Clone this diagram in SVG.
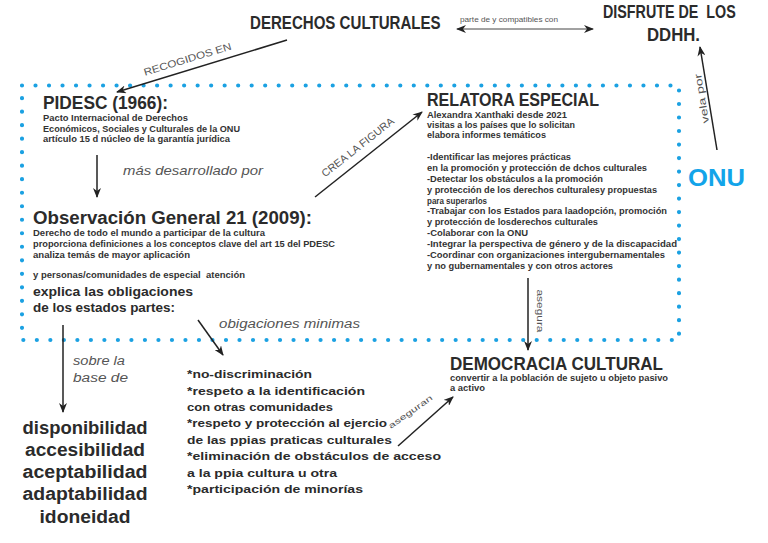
<svg xmlns="http://www.w3.org/2000/svg" width="768" height="543" viewBox="0 0 768 543">
<defs>
<style>
text{font-family:"Liberation Sans","DejaVu Sans",Arial,sans-serif;fill:#2b2b2b}
.h{font-weight:bold;font-size:17.5px}
.s{font-weight:bold;font-size:9px;fill:#333}
.it{font-style:italic;fill:#555}
.lbl{fill:#555}
.ob{font-weight:bold;font-size:11.5px}
.big{font-weight:bold;font-size:18px;text-anchor:middle}
.c{stroke:#222;stroke-width:1.5;fill:none;marker-end:url(#ah)}
</style>
<marker id="ah" viewBox="0 0 10 8" refX="9" refY="4" markerWidth="10" markerHeight="8" markerUnits="userSpaceOnUse" orient="auto-start-reverse">
<path d="M0,0 L10,4 L0,8 L3,4 z" fill="#222"/>
</marker>
</defs>
<rect width="768" height="543" fill="#fff"/>

<g id="frame">
<rect x="22" y="85.5" width="657" height="254.5" fill="none" stroke="#1ba1e2" stroke-width="4.2" stroke-linecap="round" stroke-dasharray="0 13.51"/>
</g>

<g id="connectors">
<path class="c" d="M287,40 L117,92"/>
<path class="c" d="M97,155 L97,197"/>
<path class="c" d="M315,197 L422,112"/>
<path class="c" d="M717,150 L700,47"/>
<path class="c" d="M528,278 L528,350"/>
<path class="c" d="M198,320 L223,355"/>
<path class="c" d="M63,325 L63,412"/>
<path class="c" d="M398,446 L453,397"/>
<path d="M457,29 L593,29" stroke="#444" stroke-width="1" fill="none" marker-start="url(#ah)" marker-end="url(#ah)"/>
<text class="lbl" font-size="6.5" x="460" y="22" textLength="98" lengthAdjust="spacingAndGlyphs">parte de y compatibles con</text>
<text class="lbl" font-size="10" x="188.5" y="62.5" text-anchor="middle" textLength="91" lengthAdjust="spacingAndGlyphs" transform="rotate(-17 188.5 62.5)">RECOGIDOS EN</text>
<text class="lbl" font-size="10.5" x="360" y="150" text-anchor="middle" textLength="89" lengthAdjust="spacingAndGlyphs" transform="rotate(-38.3 360 150)">CREA LA FIGURA</text>
<text class="lbl" font-size="10" x="705" y="98" text-anchor="middle" textLength="50" lengthAdjust="spacingAndGlyphs" transform="rotate(-99.4 705 98)">vela por</text>
<text class="lbl" font-size="9" x="537" y="311" text-anchor="middle" textLength="43" lengthAdjust="spacingAndGlyphs" transform="rotate(90 537 311)">asegura</text>
<text class="lbl" font-size="8" x="412" y="414" text-anchor="middle" textLength="52" lengthAdjust="spacingAndGlyphs" transform="rotate(-35 412 414)">aseguran</text>
<text class="it" font-size="13" x="123" y="175" textLength="140" lengthAdjust="spacingAndGlyphs">más desarrollado por</text>
<text class="it" font-size="12.5" x="219" y="328" textLength="141" lengthAdjust="spacingAndGlyphs">obigaciones minimas</text>
<text class="it" font-size="12" x="73" y="365" textLength="52" lengthAdjust="spacingAndGlyphs">sobre la</text>
<text class="it" font-size="12" x="73" y="382" textLength="55" lengthAdjust="spacingAndGlyphs">base de</text>
</g>

<g id="derechos">
<text font-weight="bold" font-size="19" x="0" y="0" transform="translate(250 29) scale(0.794 1)">DERECHOS CULTURALES</text>
</g>

<g id="disfrute">
<text font-weight="bold" font-size="18" x="0" y="0" transform="translate(603 18) scale(0.795 1)" xml:space="preserve">DISFRUTE DE  LOS</text>
<text font-weight="bold" font-size="18" x="647" y="41" textLength="53" lengthAdjust="spacingAndGlyphs">DDHH.</text>
</g>

<g id="onu">
<text font-weight="bold" font-size="24" x="688" y="186" textLength="57" lengthAdjust="spacingAndGlyphs" style="fill:#13a4e9">ONU</text>
</g>

<g id="pidesc">
<text class="h" font-size="17" x="43" y="109" textLength="125" lengthAdjust="spacingAndGlyphs">PIDESC (1966):</text>
<text class="s" x="43" y="121" textLength="145" lengthAdjust="spacingAndGlyphs">Pacto Internacional de Derechos</text>
<text class="s" x="43" y="132" textLength="197" lengthAdjust="spacingAndGlyphs">Económicos, Sociales y Culturales de la ONU</text>
<text class="s" x="43" y="142" textLength="187" lengthAdjust="spacingAndGlyphs">artículo 15 d núcleo de la garantía jurídica</text>
</g>

<g id="observacion">
<text class="h" x="33" y="224" textLength="279" lengthAdjust="spacingAndGlyphs">Observación General 21 (2009):</text>
<text class="s" x="33" y="236" textLength="232" lengthAdjust="spacingAndGlyphs">Derecho de todo el mundo a participar de la cultura</text>
<text class="s" x="33" y="247" textLength="302" lengthAdjust="spacingAndGlyphs">proporciona definiciones a los conceptos clave del art 15 del PDESC</text>
<text class="s" x="33" y="258" textLength="157" lengthAdjust="spacingAndGlyphs">analiza temás de mayor aplicación</text>
<text class="s" x="33" y="278" textLength="212" lengthAdjust="spacingAndGlyphs" xml:space="preserve">y personas/comunidades de especial  atención</text>
<text font-weight="bold" font-size="12.5" x="33" y="296" textLength="160" lengthAdjust="spacingAndGlyphs">explica las obligaciones</text>
<text font-weight="bold" font-size="12.5" x="33" y="312" textLength="142" lengthAdjust="spacingAndGlyphs">de los estados partes:</text>
</g>

<g id="relatora">
<text class="h" x="427" y="106" textLength="172" lengthAdjust="spacingAndGlyphs">RELATORA ESPECIAL</text>
<text class="s" x="427" y="118" textLength="140" lengthAdjust="spacingAndGlyphs">Alexandra Xanthaki desde 2021</text>
<text class="s" x="427" y="128" textLength="148" lengthAdjust="spacingAndGlyphs">visitas a los países que lo solicitan</text>
<text class="s" x="427" y="138" textLength="119" lengthAdjust="spacingAndGlyphs">elabora informes temáticos</text>
<text class="s" x="427" y="160" textLength="144" lengthAdjust="spacingAndGlyphs">-Identificar las mejores prácticas</text>
<text class="s" x="427" y="171" textLength="220" lengthAdjust="spacingAndGlyphs">en la promoción y protección de dchos culturales</text>
<text class="s" x="427" y="182" textLength="176" lengthAdjust="spacingAndGlyphs">-Detectar los obstáculos a la promoción</text>
<text class="s" x="427" y="193" textLength="230" lengthAdjust="spacingAndGlyphs">y protección de los derechos culturalesy propuestas</text>
<text class="s" x="427" y="204" textLength="60" lengthAdjust="spacingAndGlyphs">para superarlos</text>
<text class="s" x="427" y="214" textLength="240" lengthAdjust="spacingAndGlyphs">-Trabajar con los Estados para laadopción, promoción</text>
<text class="s" x="427" y="225" textLength="171" lengthAdjust="spacingAndGlyphs">y protección de losderechos culturales</text>
<text class="s" x="427" y="236" textLength="101" lengthAdjust="spacingAndGlyphs">-Colaborar con la ONU</text>
<text class="s" x="427" y="247" textLength="250" lengthAdjust="spacingAndGlyphs">-Integrar la perspectiva de género y de la discapacidad</text>
<text class="s" x="427" y="258" textLength="238" lengthAdjust="spacingAndGlyphs">-Coordinar con organizaciones intergubernamentales</text>
<text class="s" x="427" y="269" textLength="186" lengthAdjust="spacingAndGlyphs">y no gubernamentales y con otros actores</text>
</g>

<g id="democracia">
<text class="h" x="450" y="369.5" textLength="213" lengthAdjust="spacingAndGlyphs">DEMOCRACIA CULTURAL</text>
<text class="s" x="450" y="381" textLength="218" lengthAdjust="spacingAndGlyphs">convertir a la población de sujeto u objeto pasivo</text>
<text class="s" x="450" y="391" textLength="35" lengthAdjust="spacingAndGlyphs">a activo</text>
</g>

<g id="obligaciones">
<text class="ob" x="187" y="378" textLength="125" lengthAdjust="spacingAndGlyphs">*no-discriminación</text>
<text class="ob" x="187" y="395" textLength="178" lengthAdjust="spacingAndGlyphs">*respeto a la identificación</text>
<text class="ob" x="187" y="411" textLength="146" lengthAdjust="spacingAndGlyphs">con otras comunidades</text>
<text class="ob" x="187" y="427" textLength="200" lengthAdjust="spacingAndGlyphs">*respeto y protección al ejercio</text>
<text class="ob" x="187" y="444" textLength="205" lengthAdjust="spacingAndGlyphs">de las ppias praticas culturales</text>
<text class="ob" x="187" y="460" textLength="254" lengthAdjust="spacingAndGlyphs">*eliminación de obstáculos de acceso</text>
<text class="ob" x="187" y="477" textLength="150" lengthAdjust="spacingAndGlyphs">a la ppia cultura u otra</text>
<text class="ob" x="187" y="493" textLength="176" lengthAdjust="spacingAndGlyphs">*participación de minorías</text>
</g>

<g id="principios">
<text class="big" x="85" y="434" textLength="125" lengthAdjust="spacingAndGlyphs">disponibilidad</text>
<text class="big" x="85" y="456" textLength="120" lengthAdjust="spacingAndGlyphs">accesibilidad</text>
<text class="big" x="85" y="478" textLength="125" lengthAdjust="spacingAndGlyphs">aceptabilidad</text>
<text class="big" x="85" y="500" textLength="125" lengthAdjust="spacingAndGlyphs">adaptabilidad</text>
<text class="big" x="85" y="523" textLength="91" lengthAdjust="spacingAndGlyphs">idoneidad</text>
</g>
</svg>
